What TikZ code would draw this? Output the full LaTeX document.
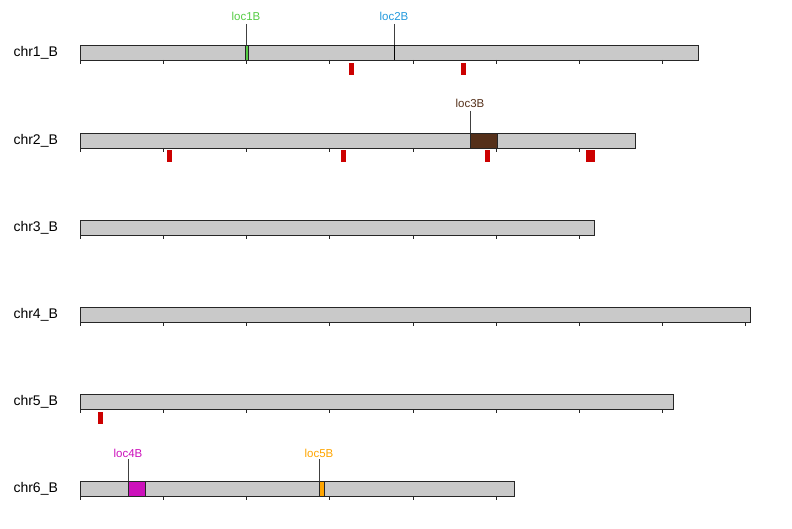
\documentclass[tikz,border=0pt]{standalone}
\usepackage{fontspec}
\setmainfont{Liberation Sans}
\definecolor{locgreen}{HTML}{55CC44}
\definecolor{locblue}{HTML}{2299DD}
\definecolor{locbrown}{HTML}{55301A}
\definecolor{locmag}{HTML}{CC11BB}
\definecolor{locorange}{HTML}{FFA500}
\definecolor{hitred}{HTML}{CC0000}
\begin{document}
\begin{tikzpicture}[x=1pt,y=-1pt,
  chrbar/.style={draw=black!85,fill=black!21,line width=0.8pt},
  tk/.style={draw=black!85,line width=0.6pt},
  hit/.style={fill=hitred,draw=none},
  chrlab/.style={anchor=west,font=\fontsize{14}{14}\selectfont},
  loclab/.style={anchor=base,font=\fontsize{11.5}{12}\selectfont},
  lead/.style={draw=black!75,line width=0.6pt}]
\useasboundingbox (0,0) rectangle (792,529);
\foreach \i/\yt/\xe/\nt in {1/45/698/7,2/133/635/6,3/220/594/6,4/307/750/8,5/394/673/7,6/481/514/5}{
  \node[chrlab] (c\i) at (10,\yt+8) {chr\i\_B};
  \draw[chrbar] (80,\yt) rectangle (\xe,\yt+15);
  \foreach \k in {0,...,\nt}{\draw[tk] (80+83.2*\k,\yt+15) -- ++(0,4);}
}
\foreach \x/\y/\w in {349/63/5,461/63/5,167/150/5,341/150/5,485/150/5,586/150/9,98/412/5}
  \fill[hit] (\x,\y) rectangle ++(\w,12);
\draw[chrbar,fill=locgreen] (245,45) rectangle (248,60);
\draw[lead] (246.5,24) -- (246.5,45);
\node[loclab,text=locgreen] (l1) at (246,21) {loc1B};
\draw[line width=1pt] (394,45) -- (394,60);
\draw[lead] (394,24) -- (394,45);
\node[loclab,text=locblue] (l2) at (394,21) {loc2B};
\draw[chrbar,fill=locbrown] (470,133) rectangle (497,148);
\draw[lead] (470,111) -- (470,133);
\node[loclab,text=locbrown] (l3) at (470,108) {loc3B};
\draw[chrbar,fill=locmag] (128,481) rectangle (145,496);
\draw[lead] (128,459) -- (128,481);
\node[loclab,text=locmag] (l4) at (128,457) {loc4B};
\draw[chrbar,fill=locorange] (319,481) rectangle (324,496);
\draw[lead] (319,459) -- (319,481);
\node[loclab,text=locorange] (l5) at (319,457) {loc5B};
\end{tikzpicture}
\end{document}
